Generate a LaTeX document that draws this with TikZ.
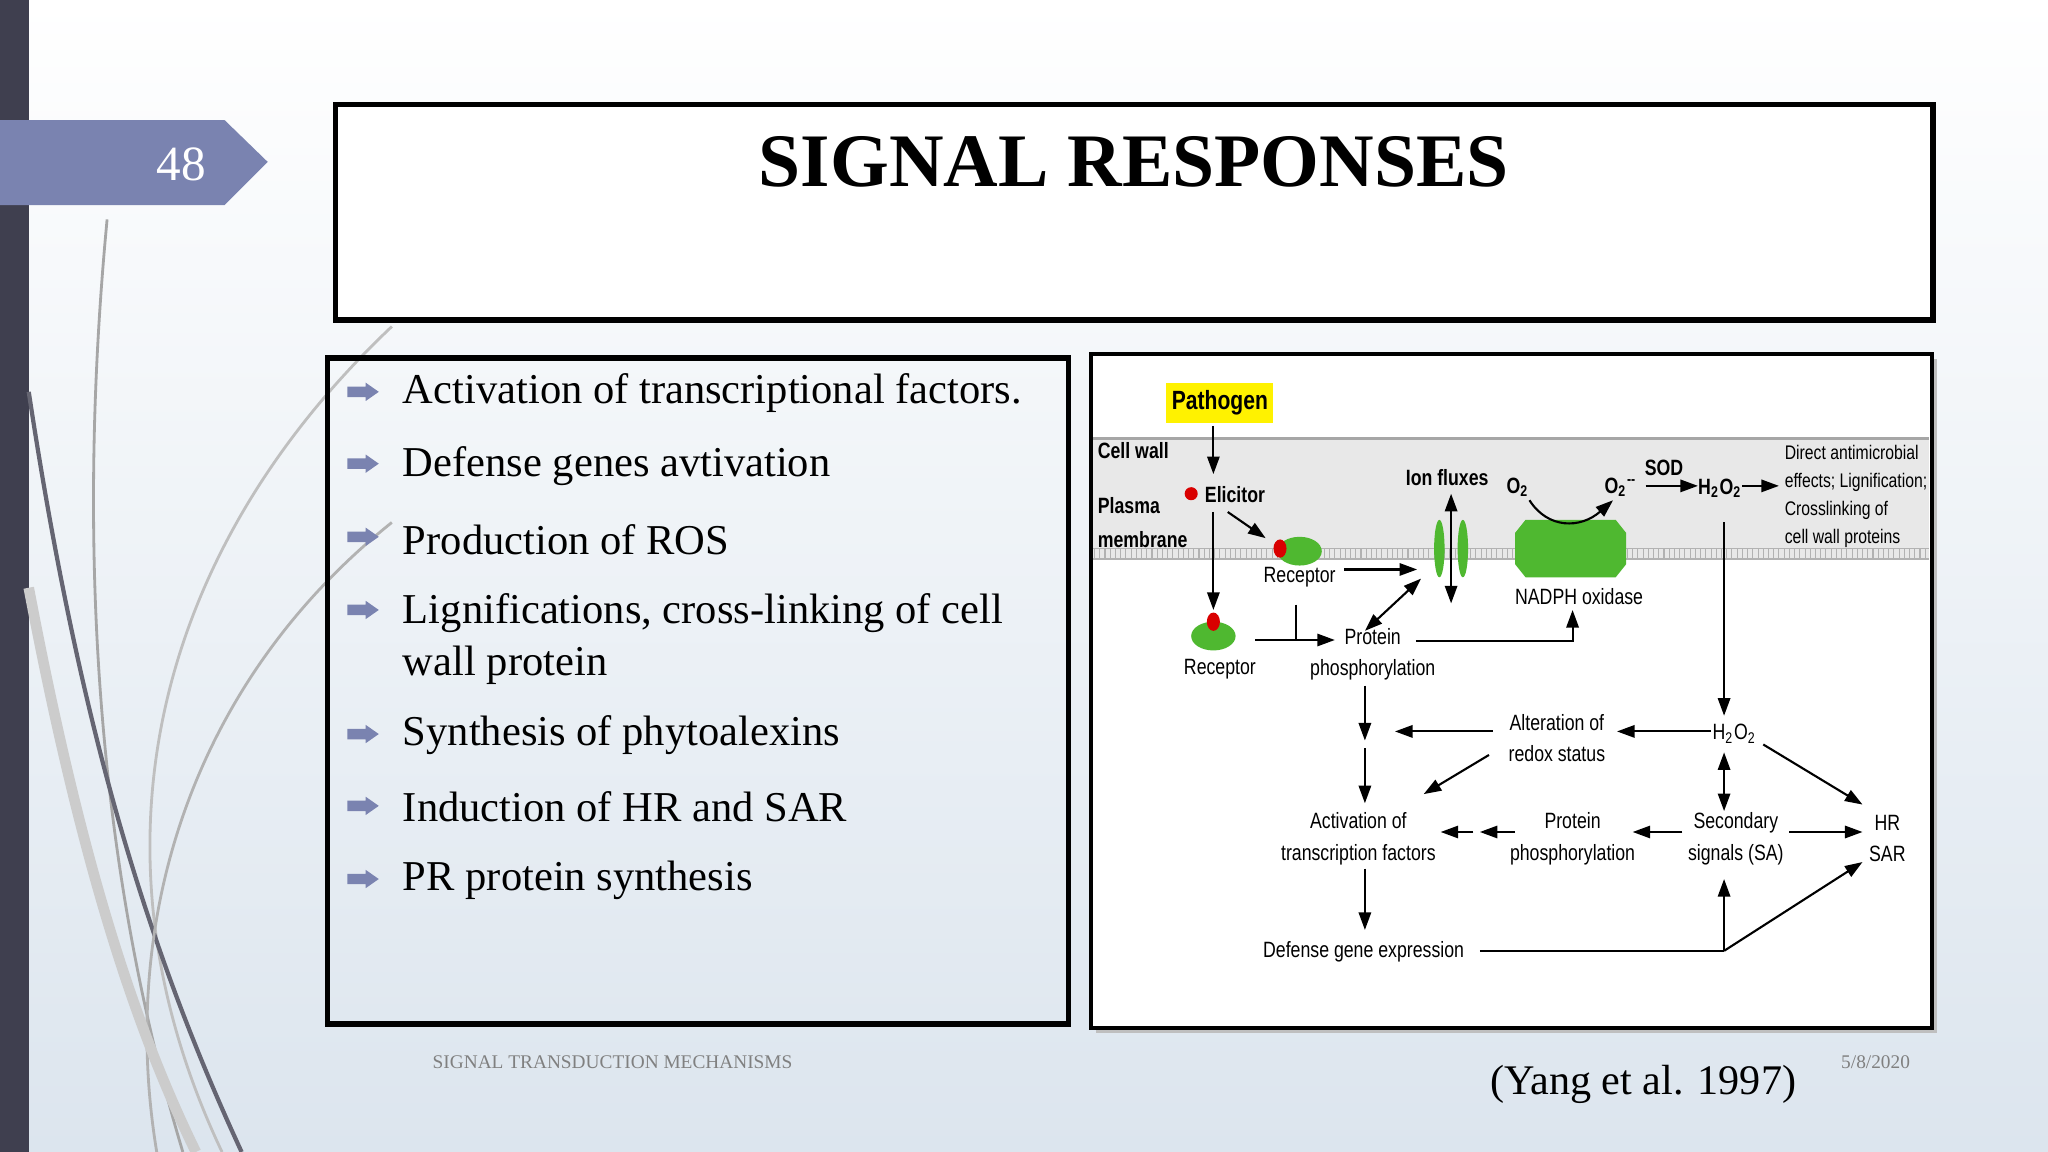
\documentclass[tikz,border=0pt]{standalone}
\usepackage{fontspec}
\setmainfont{Liberation Serif}
\newfontfamily\dia{Liberation Sans}[FakeStretch=0.8]
\usetikzlibrary{arrows.meta,shapes.geometric}
\definecolor{tabc}{HTML}{7A83B0}
\definecolor{barc}{HTML}{3F3F4F}
\definecolor{gr}{HTML}{4FB830}
\definecolor{bgb}{HTML}{DCE5EE}
\newcommand{\sbx}[1]{\textsubscript{#1}}
\begin{document}
\begin{tikzpicture}[x=0.013061cm,y=-0.013061cm,
  ar/.style={-{Triangle[length=5pt,width=3.5pt]},line width=0.6pt},
  dar/.style={{Triangle[length=5pt,width=3.5pt]}-{Triangle[length=5pt,width=3.5pt]},line width=0.6pt},
  ln/.style={line width=0.6pt},
  t/.style={font=\dia\fontsize{6.3}{7}\selectfont,align=center,inner sep=0pt},
  tb/.style={font=\dia\bfseries\fontsize{6.3}{7}\selectfont,align=center,inner sep=0pt},
  bl/.style={font=\fontsize{12.1}{14.8}\selectfont,anchor=west,inner sep=0pt,align=left}]
\useasboundingbox (0,0) rectangle (1568,882);
\shade[top color=white,bottom color=bgb] (0,0) rectangle (1568,882);
\fill[barc] (0,0) rectangle (22,882);
% decorative curves
\draw[gray!70,line width=0.8pt] (82,168) .. controls (60,400) and (70,650) .. (140,882);
\draw[gray!50,line width=0.8pt] (300,250) .. controls (120,420) and (60,650) .. (170,882);
\draw[barc!80,line width=1.2pt] (22,300) .. controls (60,550) and (110,720) .. (185,882);
\draw[gray!60,line width=0.8pt] (300,400) .. controls (150,520) and (90,700) .. (120,882);
\draw[gray!40,line width=3pt] (22,450) .. controls (60,650) and (100,780) .. (150,882);
\fill[tabc] (0,92) -- (172,92) -- (205,124) -- (172,157) -- (0,157) -- cycle;
\node[text=white,font=\fontsize{14}{16}\selectfont] (pg) at (139,126) {48};
% title
\draw[fill=white,line width=1.5pt] (257,80) rectangle (1480,245);
\node[font=\bfseries\fontsize{21.5}{26}\selectfont] (title) at (868,124) {SIGNAL RESPONSES};
% bullets
\draw[line width=1.5pt] (251,274) rectangle (818,784);
\foreach \y in {300,355,411,467,562,617,673}{
  \fill[tabc] (266,\y-4) -- (280,\y-4) -- (280,\y-7) -- (290,\y) -- (280,\y+7) -- (280,\y+4) -- (266,\y+4) -- cycle;}
\node[bl] (b1) at (308,301) {Activation of transcriptional factors.};
\node[bl] (b2) at (308,357) {Defense genes avtivation};
\node[bl] (b3) at (308,413) {Production of ROS};
\node[bl,anchor=north west] (b4) at (308,454) {Lignifications, cross-linking of cell\\wall protein};
\node[bl] (b5) at (308,563) {Synthesis of phytoalexins};
\node[bl] (b6) at (308,618) {Induction of HR and SAR};
\node[bl] (b7) at (308,674) {PR protein synthesis};
% diagram frame
\fill[gray!50] (839,275) rectangle (1483,791);
\draw[fill=white,line width=1.2pt] (835,271) rectangle (1479,787);
\fill[gray!18] (837,336) rectangle (1477,428);
\draw[gray!70,line width=0.8pt] (837,336) -- (1477,336);
\draw[gray!60] (837,420) -- (1477,420) (837,428) -- (1477,428);
\foreach \x in {838,842,...,1476} \draw[gray!60,line width=0.3pt] (\x,420) -- (\x,428);
% left part
\fill[yellow] (893,293) rectangle (975,324);
\node[tb,font=\dia\bfseries\fontsize{7.5}{9}\selectfont] (path) at (934,308) {Pathogen};
\node[tb,anchor=west] (cw) at (840,345) {Cell wall};
\node[tb,anchor=west,align=left,font=\dia\bfseries\fontsize{6.3}{9.5}\selectfont] (pm) at (840,400) {Plasma\\membrane};
\coordinate (p1) at (929,326);
\coordinate (p2) at (929,363);
\draw[ar] (p1) -- (p2);
\fill[red!85!black] (912,378) circle (5);
\node[tb,anchor=west] (eli) at (922,379) {Elicitor};
\coordinate (e1) at (940,392); \coordinate (e2) at (969,412);
\draw[ar] (e1) -- (e2);
\fill[gr] (995,422) ellipse (17 and 11);
\fill[red!85!black] (980,420) ellipse (5 and 7);
\node[t] (rec1) at (995,442) {Receptor};
\coordinate (e3) at (929,392); \coordinate (e4) at (929,467);
\draw[ar] (e3) -- (e4);
\fill[gr] (929,487) ellipse (17 and 11);
\fill[red!85!black] (929,476) ellipse (5 and 7);
\node[t] (rec2) at (934,512) {Receptor};
\node[t] (pp1) at (1051,501) {Protein\\[2pt]phosphorylation};
\coordinate (r1) at (961,490); \coordinate (r2) at (1022,490);
\draw[ar] (r1) -- (r2);
\coordinate (r3) at (992,463); \coordinate (r4) at (992,490);
\draw[ln] (r3) -- (r4);
\coordinate (r5) at (1029,436); \coordinate (r6) at (1085,436);
\draw[ar] (r5) -- (r6);
\coordinate (r7) at (1045,483); \coordinate (r8) at (1088,443);
\draw[dar] (r7) -- (r8);
% ion channel
\fill[gr] (1102,420) ellipse (4 and 22);
\fill[gr] (1120,420) ellipse (4 and 22);
\coordinate (i1) at (1111,378); \coordinate (i2) at (1111,462);
\draw[dar] (i1) -- (i2);
\node[tb] (ion) at (1108,366) {Ion fluxes};
% NADPH
\fill[gr] (1168,398) -- (1237,398) -- (1245,408) -- (1245,432) -- (1237,442) -- (1168,442) -- (1160,432) -- (1160,408) -- cycle;
\node[t] (nad) at (1209,457) {NADPH oxidase};
\node[tb] (o2) at (1162,373) {O\sbx{2}};
\node[tb] (o2m) at (1241,373) {O\sbx{2}\textsuperscript{--}};
\draw[ar] (1171,383) .. controls (1185,405) and (1210,405) .. (1235,383);
\node[tb] (sod) at (1274,358) {SOD};
\coordinate (s1) at (1260,372); \coordinate (s2) at (1300,372);
\draw[ar] (s1) -- (s2);
\node[tb] (h1) at (1317,374) {H\sbx{2}O\sbx{2}};
\coordinate (s3) at (1334,372); \coordinate (s4) at (1362,372);
\draw[ar] (s3) -- (s4);
\node[t,anchor=west,align=left,font=\dia\fontsize{5.6}{7.9}\selectfont] (dir) at (1366,380) {Direct antimicrobial\\effects; Lignification;\\Crosslinking of\\cell wall proteins};
\coordinate (n1) at (1084,491); \coordinate (n2) at (1204,491); \coordinate (n3) at (1204,467);
\draw[ar] (n1) -- (n2) -- (n3);
\coordinate (v1) at (1320,400); \coordinate (v2) at (1320,548);
\draw[ar] (v1) -- (v2);
% lower part
\coordinate (a1) at (1045,525); \coordinate (a2) at (1045,567);
\draw[ar] (a1) -- (a2);
\coordinate (a3) at (1045,573); \coordinate (a4) at (1045,615);
\draw[ar] (a3) -- (a4);
\node[t] (alt) at (1192,565) {Alteration of\\[2pt]redox status};
\node[t] (h2) at (1328,562) {H\sbx{2}O\sbx{2}};
\coordinate (b1a) at (1143,560); \coordinate (b1b) at (1068,560);
\draw[ar] (b1a) -- (b1b);
\coordinate (b2a) at (1310,560); \coordinate (b2b) at (1238,560);
\draw[ar] (b2a) -- (b2b);
\coordinate (b3a) at (1350,570); \coordinate (b3b) at (1426,616);
\draw[ar] (b3a) -- (b3b);
\coordinate (b4a) at (1140,578); \coordinate (b4b) at (1090,608);
\draw[ar] (b4a) -- (b4b);
\coordinate (b5a) at (1320,576); \coordinate (b5b) at (1320,621);
\draw[dar] (b5a) -- (b5b);
\node[t] (act) at (1040,642) {Activation of\\[2pt]transcription factors};
\node[t] (pp2) at (1204,642) {Protein\\[2pt]phosphorylation};
\node[t] (sec) at (1329,642) {Secondary\\[2pt]signals (SA)};
\node[t] (hr) at (1445,642) {HR\\[2pt]SAR};
\coordinate (c1) at (1160,637); \coordinate (c2) at (1133,637);
\draw[ar] (c1) -- (c2);
\coordinate (c3) at (1128,637); \coordinate (c4) at (1103,637);
\draw[ar] (c3) -- (c4);
\coordinate (c5) at (1288,637); \coordinate (c6) at (1250,637);
\draw[ar] (c5) -- (c6);
\coordinate (c7) at (1370,637); \coordinate (c8) at (1426,637);
\draw[ar] (c7) -- (c8);
\coordinate (d1) at (1045,665); \coordinate (d2) at (1045,712);
\draw[ar] (d1) -- (d2);
\node[t] (def) at (1044,729) {Defense gene expression};
\coordinate (f1) at (1133,728); \coordinate (f2) at (1320,728);
\coordinate (f3) at (1320,673); \coordinate (f4) at (1426,660);
\draw[ln] (f1) -- (f2);
\draw[ar] (f2) -- (f3);
\draw[ar] (f2) -- (f4);
% footer
\node[text=gray,font=\fontsize{5.5}{7}\selectfont] (ft) at (469,813) {SIGNAL TRANSDUCTION MECHANISMS};
\node[text=gray,font=\fontsize{5.5}{7}\selectfont] (dt) at (1436,813) {5/8/2020};
\node[font=\fontsize{12}{15}\selectfont] (ya) at (1258,830) {(Yang et al. 1997)};
\end{tikzpicture}
\end{document}
